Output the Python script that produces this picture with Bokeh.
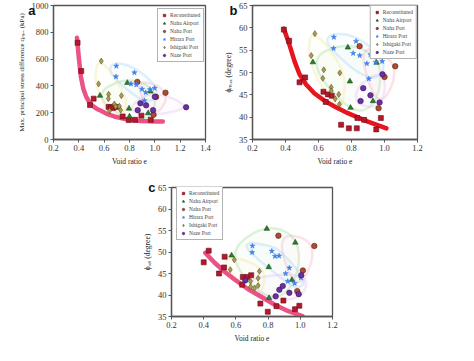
import numpy as np
from bokeh.plotting import figure
from bokeh.models import Spacer, FixedTicker, Legend, LegendItem, LinearAxis
from bokeh.layouts import column, row
from bokeh.embed import file_html
from bokeh.resources import INLINE

# ---------------- data ----------------
groups = ["Reconstituted", "Naha Airport", "Naha Port", "Hirara Port", "Ishigaki Port", "Naze Port"]

# panel a : q_max (kPa)
rec_a_e = [0.39, 0.419, 0.488, 0.517, 0.635, 0.654, 0.672, 0.693, 0.746, 0.794, 0.844, 0.894, 0.968]
rec_a_v = [722, 511, 258, 305, 243, 243, 236, 243, 172, 145, 147, 178, 147]
nair_a_e = [0.567, 0.783, 0.796, 0.800, 0.947, 0.965]
nair_a_v = [327, 423, 231, 172, 197, 359]
nport_a_e = [0.862, 0.99, 1.01, 1.084]
nport_a_v = [430, 184, 318, 349]
hir_a_e = [0.696, 0.693, 0.839, 0.812, 0.854, 0.899, 0.928, 0.962, 0.999, 0.918]
hir_a_v = [548, 469, 499, 415, 408, 376, 351, 373, 383, 290]
ish_a_e = [0.577, 0.556, 0.635, 0.633, 0.736, 0.68, 0.691, 0.72, 0.73, 0.643]
ish_a_v = [585, 415, 337, 305, 327, 265, 246, 248, 219, 214]
naze_a_e = [0.886, 0.931, 0.865, 0.986, 1.0, 1.247]
naze_a_v = [270, 255, 219, 219, 319, 241]
curve_a_e = [0.385, 0.40, 0.416, 0.435, 0.456, 0.48, 0.509, 0.54, 0.575, 0.62, 0.68, 0.74, 0.786, 0.84, 0.891, 0.95, 1.00, 1.063]
curve_a_v = [760, 610, 470, 380, 324, 282, 251, 230, 214, 192, 172, 158, 148, 142, 138, 136, 135, 135]

# panel b : phi_max (degree)
rec_b_e = [0.39, 0.422, 0.485, 0.519, 0.63, 0.644, 0.657, 0.68, 0.737, 0.784, 0.832, 0.836, 0.877, 0.95, 0.978]
rec_b_v = [59.6, 57.1, 47.8, 48.9, 45.7, 43.4, 45.1, 44.8, 38.3, 37.5, 37.5, 39.8, 39.4, 37.25, 39.8]
nair_b_e = [0.566, 0.778, 0.79, 0.794, 0.93, 0.952]
nair_b_v = [52.3, 55.6, 48.0, 42.1, 43.6, 52.2]
nport_b_e = [0.849, 0.964, 1.0, 1.065]
nport_b_v = [55.9, 42.0, 49.0, 51.4]
hir_b_e = [0.693, 0.691, 0.828, 0.81, 0.85, 0.915, 0.893, 0.947, 0.986, 0.905]
hir_b_v = [57.9, 55.4, 57.0, 54.3, 53.8, 54.0, 52.0, 52.3, 52.5, 48.6]
ish_b_e = [0.578, 0.556, 0.632, 0.626, 0.729, 0.677, 0.677, 0.701, 0.723, 0.727]
ish_b_v = [58.7, 53.8, 50.6, 48.7, 49.9, 46.7, 45.9, 44.1, 45.1, 42.9]
naze_b_e = [0.871, 0.915, 0.855, 0.97, 0.988]
naze_b_v = [46.5, 44.9, 43.6, 43.3, 49.6]
curve_b_e = [0.39, 0.424, 0.455, 0.485, 0.525, 0.576, 0.636, 0.697, 0.778, 0.879, 1.012]
curve_b_v = [59.8, 56.2, 52.5, 49.6, 47.3, 45.3, 43.7, 42.4, 40.9, 39.3, 37.5]

# panel c : phi_res (degree)
rec_c_e = [0.4, 0.431, 0.495, 0.526, 0.53, 0.639, 0.643, 0.67, 0.695, 0.752, 0.798, 0.852, 0.895, 0.967, 0.994]
rec_c_v = [47.6, 50.3, 45.0, 46.4, 48.9, 42.4, 44.2, 44.2, 44.6, 38.0, 36.1, 37.4, 38.7, 36.7, 37.5]
nair_c_e = [0.573, 0.792, 0.804, 0.806, 0.948, 0.969]
nair_c_v = [49.2, 55.4, 46.5, 39.3, 43.5, 52.2]
nport_c_e = [0.864, 0.981, 1.016, 1.087]
nport_c_v = [53.8, 40.9, 45.7, 51.4]
hir_c_e = [0.703, 0.701, 0.823, 0.843, 0.868, 0.932, 0.909, 0.922, 0.965, 1.004]
hir_c_v = [51.4, 49.9, 50.2, 49.0, 49.1, 46.3, 45.0, 43.2, 42.7, 44.0]
ish_c_e = [0.59, 0.565, 0.746, 0.738, 0.738, 0.691, 0.691, 0.716]
ish_c_v = [48.2, 45.9, 45.5, 43.9, 42.2, 43.2, 41.9, 41.6]
naze_c_e = [0.658, 0.847, 0.87, 0.891, 0.932, 0.99, 1.006]
naze_c_v = [43.4, 39.7, 41.2, 42.1, 40.5, 40.2, 44.6]
curve_c_e = [0.41, 0.468, 0.53, 0.592, 0.674, 0.757, 0.839, 0.922, 1.014]
curve_c_v = [49.8, 47.5, 45.4, 43.6, 41.4, 39.6, 37.8, 36.3, 35.1]

x_ticks_a = [0.2, 0.4, 0.6, 0.8, 1.0, 1.2, 1.4]
x_labels_a = ["0.2", "0.4", "0.6", "0.8", "1.0", "1.2", "1.4"]
y_ticks_a = [0, 200, 400, 600, 800, 1000]
x_ticks_bc = [0.2, 0.4, 0.6, 0.8, 1.0, 1.2]
x_labels_bc = ["0.2", "0.4", "0.6", "0.8", "1.0", "1.2"]
y_ticks_bc = [35, 40, 45, 50, 55, 60, 65]

# ---------------- styles ----------------
SERIF = "Liberation Serif"
mk = {
    "Reconstituted": dict(marker="square", fill_color="#b3182c", line_color="#6e0c18", size=5),
    "Naha Airport": dict(marker="triangle", fill_color="#2a7d2a", line_color="#1a501a", size=5.5),
    "Naha Port": dict(marker="circle", fill_color="#b04a30", line_color="#55200f", size=5.5),
    "Hirara Port": dict(marker="star", fill_color="#3d80e8", line_color="#3d80e8", size=5.5),
    "Ishigaki Port": dict(marker="diamond", fill_color="#ad9d50", line_color="#5a5020", size=6),
    "Naze Port": dict(marker="circle", fill_color="#6c2fa2", line_color="#3a1060", size=5.5),
}
hull_col = {
    "Naha Airport": "#a8e0a8",
    "Naha Port": "#f6bcc8",
    "Hirara Port": "#b0d8f4",
    "Ishigaki Port": "#f2e8a4",
    "Naze Port": "#e6c8f0",
}


def hull_outline(xs, ys, xr, yr, pad=0.045):
    px = (np.asarray(xs) - xr[0]) / (xr[1] - xr[0])
    py = (np.asarray(ys) - yr[0]) / (yr[1] - yr[0])
    pts = sorted(set(zip(px.tolist(), py.tolist())))
    if len(pts) < 3:
        return None

    def cross(o, a, b):
        return (a[0] - o[0]) * (b[1] - o[1]) - (a[1] - o[1]) * (b[0] - o[0])
    lower, upper = [], []
    for p_ in pts:
        while len(lower) >= 2 and cross(lower[-2], lower[-1], p_) <= 0:
            lower.pop()
        lower.append(p_)
    for p_ in reversed(pts):
        while len(upper) >= 2 and cross(upper[-2], upper[-1], p_) <= 0:
            upper.pop()
        upper.append(p_)
    h = np.array(lower[:-1] + upper[:-1])
    c = h.mean(axis=0)
    out = []
    for v in h:
        d = v - c
        n = np.hypot(*d) + 1e-9
        out.append(v + d / n * pad)
    poly = np.array(out)
    for _ in range(4):
        new = []
        m = len(poly)
        for i in range(m):
            a, b = poly[i], poly[(i + 1) % m]
            new.append(0.75 * a + 0.25 * b)
            new.append(0.25 * a + 0.75 * b)
        poly = np.array(new)
    poly = np.vstack([poly, poly[:1]])
    return (poly[:, 0] * (xr[1] - xr[0]) + xr[0], poly[:, 1] * (yr[1] - yr[0]) + yr[0])


def make_panel(width, height, bl, br, bt, bb, xr, yr, xticks, xlabels, yticks, ylabel, ylabel_size="7.5px"):
    p = figure(width=width, height=height, x_range=xr, y_range=yr,
               output_backend="svg", toolbar_location=None,
               min_border_left=bl, min_border_right=br, min_border_top=bt, min_border_bottom=bb)
    p.xgrid.visible = False
    p.ygrid.visible = False
    p.outline_line_color = "#555555"
    p.outline_line_width = 1.3
    p.xaxis.ticker = FixedTicker(ticks=xticks)
    p.xaxis.major_label_overrides = {t: l for t, l in zip(xticks, xlabels)}
    p.yaxis.ticker = FixedTicker(ticks=yticks)
    p.xaxis.axis_label = "Void ratio e"
    p.yaxis.axis_label = ylabel
    for ax in p.axis:
        ax.axis_line_color = "#555555"
        ax.axis_line_width = 1.3
        ax.major_tick_line_color = "#555555"
        ax.major_tick_out = 3
        ax.major_tick_in = 0
        ax.minor_tick_out = 0
        ax.minor_tick_in = 0
        ax.major_label_text_font = SERIF
        ax.major_label_text_font_size = "8.5px"
        ax.major_label_text_color = "#333333"
        ax.major_label_standoff = 2
        ax.axis_label_text_font = SERIF
        ax.axis_label_text_font_size = "7.5px"
        ax.axis_label_text_font_style = "normal"
        ax.axis_label_text_color = "#222222"
        ax.axis_label_standoff = 3
    p.yaxis.axis_label_text_font_size = ylabel_size
    return p


def fill_panel(p, data, curve, curve_color, curve_alpha, xr, yr):
    for g in groups[1:]:
        e, v = data[g]
        h = hull_outline(e, v, xr, yr)
        if h is not None:
            p.patch(h[0], h[1], fill_color=hull_col[g], fill_alpha=0.05,
                    line_color=hull_col[g], line_alpha=0.4, line_width=2.5)
    p.line(curve[0], curve[1], line_color=curve_color, line_width=4.5,
           line_alpha=curve_alpha, line_cap="round", line_join="round")
    items = []
    for g in groups:
        e, v = data[g]
        r = p.scatter(e, v, line_width=0.6, **mk[g])
        items.append(LegendItem(label=g, renderers=[r]))
    return items


def series_legend(items, loc, margin=0):
    return Legend(items=items, location=loc, label_text_font=SERIF, label_text_font_size="5.5px",
                  label_height=6, glyph_height=6, glyph_width=6, label_standoff=3, spacing=2,
                  padding=3, margin=margin, border_line_color="#666666", border_line_width=1,
                  background_fill_alpha=1.0)


def letter_axis(p, letter, top_value, standoff):
    ax = LinearAxis(ticker=FixedTicker(ticks=[top_value]),
                    major_label_overrides={top_value: letter},
                    axis_line_color=None, major_tick_line_color=None,
                    minor_tick_line_color=None, major_tick_out=0, major_tick_in=0,
                    major_label_text_font="Liberation Sans", major_label_text_font_size="13px",
                    major_label_text_font_style="bold", major_label_text_color="#111111",
                    major_label_standoff=standoff)
    p.add_layout(ax, "left")


# ---------------- panel a ----------------
xr_a, yr_a = (0.2, 1.4), (0, 1000)
pa = make_panel(218, 168, 53, 13, 5, 27, xr_a, yr_a, x_ticks_a, x_labels_a, y_ticks_a,
                "Max. principal stress difference qₘₐₓ (kPa)", ylabel_size="7px")
data_a = {
    "Reconstituted": (rec_a_e, rec_a_v), "Naha Airport": (nair_a_e, nair_a_v),
    "Naha Port": (nport_a_e, nport_a_v), "Hirara Port": (hir_a_e, hir_a_v),
    "Ishigaki Port": (ish_a_e, ish_a_v), "Naze Port": (naze_a_e, naze_a_v),
}
it_a = fill_panel(pa, data_a, (curve_a_e, curve_a_v), "#ea3f78", 0.9, xr_a, yr_a)
pa.add_layout(series_legend(it_a, (104, 77)))
letter_axis(pa, "a", yr_a[1], -21)

# ---------------- panel b ----------------
xr_b, yr_b = (0.2, 1.2), (35, 65)
pb = make_panel(240, 168, 34, 41, 3, 27, xr_b, yr_b, x_ticks_bc, x_labels_bc, y_ticks_bc,
                "ϕₘₐₓ (degree)")
data_b = {
    "Reconstituted": (rec_b_e, rec_b_v), "Naha Airport": (nair_b_e, nair_b_v),
    "Naha Port": (nport_b_e, nport_b_v), "Hirara Port": (hir_b_e, hir_b_v),
    "Ishigaki Port": (ish_b_e, ish_b_v), "Naze Port": (naze_b_e, naze_b_v),
}
it_b = fill_panel(pb, data_b, (curve_b_e, curve_b_v), "#e8141e", 1.0, xr_b, yr_b)
pb.add_layout(series_legend(it_b, "top_right"))
letter_axis(pb, "b", yr_b[1], -17)

# ---------------- panel c ----------------
xr_c, yr_c = (0.2, 1.2), (35, 65)
pc = make_panel(220, 177, 39, 20, 19, 26, xr_c, yr_c, x_ticks_bc, x_labels_bc, y_ticks_bc,
                "ϕᵣₑₛ (degree)")
data_c = {
    "Reconstituted": (rec_c_e, rec_c_v), "Naha Airport": (nair_c_e, nair_c_v),
    "Naha Port": (nport_c_e, nport_c_v), "Hirara Port": (hir_c_e, hir_c_v),
    "Ishigaki Port": (ish_c_e, ish_c_v), "Naze Port": (naze_c_e, naze_c_v),
}
it_c = fill_panel(pc, data_c, (curve_c_e, curve_c_v), "#ea3f78", 0.9, xr_c, yr_c)
pc.add_layout(series_legend(it_c, (5, 76)))
letter_axis(pc, "c", yr_c[1], -16)

layout = column(row(pa, pb), row(Spacer(width=132, height=177), pc))

open("out.html", "w").write(file_html(layout, INLINE))
